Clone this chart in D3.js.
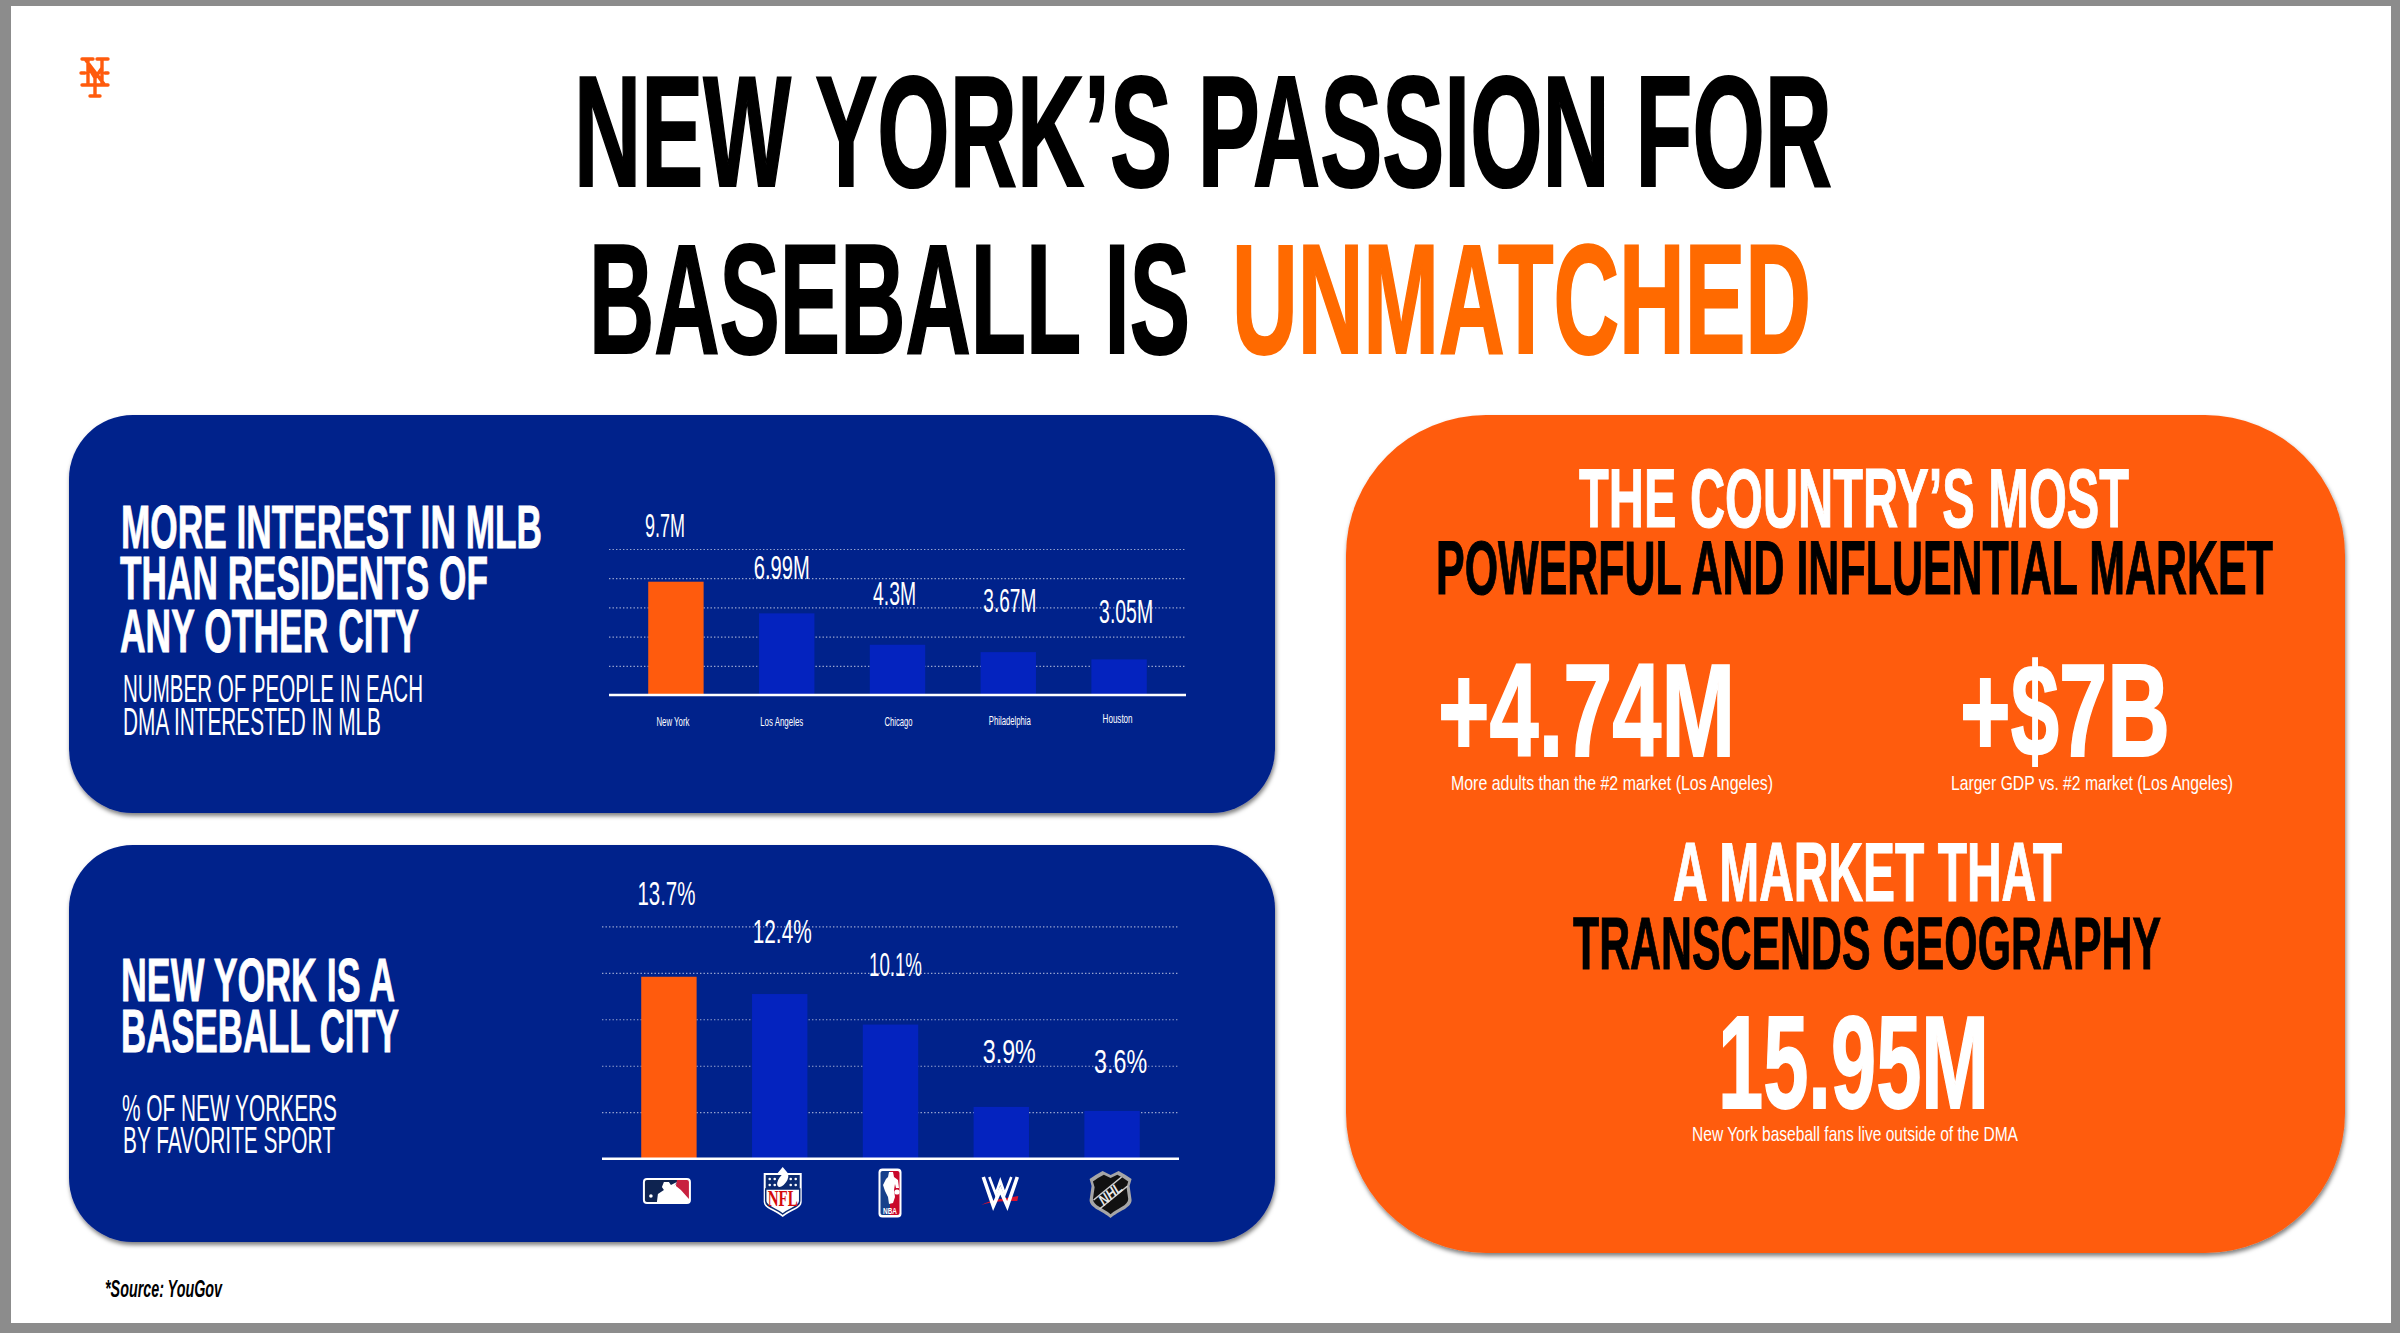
<!DOCTYPE html>
<html>
<head>
<meta charset="utf-8">
<script src="https://cdn.jsdelivr.net/npm/d3@7/dist/d3.min.js"></script>
<style>
  html, body { margin: 0; padding: 0; background: #8c8c8c; }
  svg { display: block; }
  text { font-family: 'Liberation Sans Narrow', 'Liberation Sans', sans-serif; }
</style>
</head>
<body>
<div id="chart"></div>
<script>
// chart values
const cities = ['New York', 'Los Angeles', 'Chicago', 'Philadelphia', 'Houston'];
const cityFans = [9.7, 6.99, 4.3, 3.67, 3.05];
const cityValueLabels = ['9.7M', '6.99M', '4.3M', '3.67M', '3.05M'];
const cityTicks = [2.5, 5, 7.5, 10, 12.5];

const sports = ['MLB', 'NFL', 'NBA', 'WWE', 'NHL'];
const sportShare = [13.7, 12.4, 10.1, 3.9, 3.6];
const sportValueLabels = ['13.7%', '12.4%', '10.1%', '3.9%', '3.6%'];
const sportTicks = [3.5, 7, 10.5, 14, 17.5];

const NAVY = '#05208b';
const BAR_BLUE = '#0423bf';
const ORANGE = '#ff5b0d';
const TITLE_ORANGE = '#ff6a00';
const CAP = 0.688; // cap height of the Liberation fonts

const svg = d3.select('#chart').append('svg').attr('width', 2400).attr('height', 1333);

const defs = svg.append('defs');
const shadow = defs.append('filter').attr('id', 'shadow')
  .attr('x', '-5%').attr('y', '-5%').attr('width', '110%').attr('height', '112%');
shadow.append('feDropShadow').attr('dx', 1).attr('dy', 3).attr('stdDeviation', 2)
  .attr('flood-color', '#000').attr('flood-opacity', 0.5);

// slide page
svg.append('rect').attr('x', 11).attr('y', 6).attr('width', 2380).attr('height', 1317).attr('fill', '#fff');

// text stretched to the width it has in the slide
function fit(g, str, x0, x1, base, cap, color, weight) {
  const t = g.append('text')
    .attr('x', x0).attr('y', base)
    .attr('font-size', cap / CAP)
    .attr('font-weight', weight || 'bold')
    .attr('fill', color)
    .attr('textLength', x1 - x0)
    .attr('lengthAdjust', 'spacingAndGlyphs')
    .text(str);
  // the slide's display face is heavier than the bold we have
  if (!weight) t.attr('stroke', color).attr('stroke-width', cap * 0.02);
  return t;
}

function panel(x0, y0, x1, y1, r, color) {
  svg.append('rect')
    .attr('x', x0).attr('y', y0)
    .attr('width', x1 - x0).attr('height', y1 - y0)
    .attr('rx', r).attr('ry', r)
    .attr('fill', color)
    .attr('filter', 'url(#shadow)');
}

panel(69, 415, 1275, 813, 64, NAVY);
panel(69, 845, 1275, 1242, 64, NAVY);
panel(1346, 415, 2345, 1253, 140, ORANGE);

// headline
const page = svg.append('g');
fit(page, 'NEW YORK\u2019S PASSION FOR', 574, 1832, 186, 109, '#000');
fit(page, 'BASEBALL IS', 589, 1190, 353, 107, '#000');
fit(page, 'UNMATCHED', 1232, 1811, 353, 107, TITLE_ORANGE);
fit(page, '*Source: YouGov', 105, 222, 1297, 16, '#000', '600').attr('font-style', 'italic');

// left panel copy
fit(page, 'MORE INTEREST IN MLB', 121, 542, 548, 42, '#fff');
fit(page, 'THAN RESIDENTS OF', 120, 488, 599, 42, '#fff');
fit(page, 'ANY OTHER CITY', 120, 419, 652, 42, '#fff');
fit(page, 'NUMBER OF PEOPLE IN EACH', 123, 423, 702, 27, '#fff', 'normal');
fit(page, 'DMA INTERESTED IN MLB', 123, 381, 735, 27, '#fff', 'normal');

fit(page, 'NEW YORK IS A', 121, 395, 1001, 42, '#fff');
fit(page, 'BASEBALL CITY', 121, 399, 1052, 42, '#fff');
fit(page, '% OF NEW YORKERS', 122, 337, 1121, 26, '#fff', 'normal');
fit(page, 'BY FAVORITE SPORT', 123, 335, 1153, 26, '#fff', 'normal');

// right panel copy
fit(page, 'THE COUNTRY\u2019S MOST', 1579, 2129, 527, 57, '#fff');
fit(page, 'POWERFUL AND INFLUENTIAL MARKET', 1436, 2273, 594, 52, '#000');
fit(page, '+4.74M', 1438, 1735, 756, 91, '#fff');
fit(page, '+$7B', 1960, 2170, 756, 91, '#fff');
fit(page, 'More adults than the #2 market (Los Angeles)', 1451, 1773, 790, 14, '#fff', 'normal');
fit(page, 'Larger GDP vs. #2 market (Los Angeles)', 1951, 2233, 790, 14, '#fff', 'normal');
fit(page, 'A MARKET THAT', 1673, 2062, 901, 57, '#fff');
fit(page, 'TRANSCENDS GEOGRAPHY', 1573, 2161, 969, 51, '#000');
fit(page, '15.95M', 1718, 1989, 1108, 91, '#fff');
fit(page, 'New York baseball fans live outside of the DMA', 1692, 2018, 1141, 14, '#fff', 'normal');

// team mark, interlocked N and Y
svg.append('path')
  .attr('d', 'M82,59H93M97,59H108M88,59V85M102,59V85M82,85H93M97,85H108M85,59 L104,84M81,73H85M105,73H108M95,78V95M90,96H100M95,78 L89,68M95,78 L102,68')
  .attr('fill', 'none')
  .attr('stroke', ORANGE)
  .attr('stroke-width', 3.4)
  .attr('stroke-linecap', 'round');

function barChart(opts) {
  const { names, values, valueLabels, ticks, left, right, base, top, max, labelTweaks } = opts;
  const g = svg.append('g');

  const x = d3.scaleBand()
    .domain(names)
    .range([left, right])
    .paddingInner(0.5)
    .paddingOuter(0.354);

  const y = d3.scaleLinear().domain([0, max]).range([base, top]);

  // dotted grid
  const grid = g.append('g')
    .attr('transform', `translate(${left},0)`)
    .call(d3.axisLeft(y).tickValues(ticks).tickSize(-(right - left)).tickFormat(''));
  grid.select('.domain').remove();
  grid.selectAll('.tick line')
    .attr('stroke', '#fff')
    .attr('stroke-opacity', 0.6)
    .attr('stroke-width', 1.2)
    .attr('stroke-dasharray', '1.4 2.1');

  g.selectAll('.bar')
    .data(names)
    .enter()
    .append('rect')
    .attr('class', 'bar')
    .attr('x', (d) => x(d))
    .attr('width', x.bandwidth())
    .attr('y', (d, i) => y(values[i]))
    .attr('height', (d, i) => base - y(values[i]))
    .attr('fill', (d, i) => (i === 0 ? ORANGE : BAR_BLUE));

  // white baseline
  g.append('line')
    .attr('x1', left).attr('x2', right)
    .attr('y1', base).attr('y2', base)
    .attr('stroke', '#fff').attr('stroke-width', 2.6);

  // value labels sit by hand over the bars in the slide
  g.selectAll('.value')
    .data(names)
    .enter()
    .append('text')
    .attr('class', 'value')
    .attr('x', (d, i) => x(d) + x.bandwidth() / 2 + labelTweaks[i].dx)
    .attr('y', (d, i) => y(values[i]) - labelTweaks[i].lift)
    .attr('text-anchor', 'middle')
    .attr('font-size', 23 / CAP)
    .attr('fill', '#fff')
    .attr('textLength', (d, i) => labelTweaks[i].w)
    .attr('lengthAdjust', 'spacingAndGlyphs')
    .text((d, i) => valueLabels[i]);

  return { g, x, y };
}

const cityChart = barChart({
  names: cities, values: cityFans, valueLabels: cityValueLabels, ticks: cityTicks,
  left: 609, right: 1186, base: 695, top: 549, max: 12.5,
  labelTweaks: [
    { dx: -11, lift: 45, w: 40 },
    { dx: -5, lift: 34, w: 56 },
    { dx: -3, lift: 40, w: 43 },
    { dx: 1.5, lift: 40, w: 53 },
    { dx: 7, lift: 36, w: 54 }
  ]
});

// city names on the x axis
const cityNameBox = [
  { dx: -3, dy: 0, w: 33 },
  { dx: -5, dy: 0, w: 43 },
  { dx: 1, dy: 0, w: 28 },
  { dx: 1.5, dy: -1, w: 42 },
  { dx: -1.5, dy: -3, w: 30 }
];
const cityAxis = cityChart.g.append('g')
  .attr('transform', 'translate(0,695)')
  .call(d3.axisBottom(cityChart.x).tickSize(0));
cityAxis.select('.domain').remove();
cityAxis.selectAll('.tick text')
  .attr('y', 31)
  .attr('fill', '#fff')
  .attr('dy', 0)
  .attr('font-size', 13)
  .attr('font-family', null)
  .attr('textLength', (d, i) => cityNameBox[i].w)
  .attr('lengthAdjust', 'spacingAndGlyphs')
  .attr('transform', (d, i) => `translate(${cityNameBox[i].dx},${cityNameBox[i].dy})`);

const sportChart = barChart({
  names: sports, values: sportShare, valueLabels: sportValueLabels, ticks: sportTicks,
  left: 602, right: 1179, base: 1158.7, top: 926.3, max: 17.5,
  labelTweaks: [
    { dx: -2.5, lift: 72, w: 58 },
    { dx: 2.5, lift: 51, w: 59 },
    { dx: 5, lift: 49, w: 53 },
    { dx: 8, lift: 44, w: 53 },
    { dx: 8.5, lift: 38, w: 53 }
  ]
});

// league logos stand in for the x axis labels
const logoNudge = { MLB: -2, NFL: 3, NBA: -0.5, WWE: -1, NHL: -1.5 };
const logoY = { MLB: 1191, NFL: 1192, NBA: 1193, WWE: 1192, NHL: 1194 };
const logos = sportChart.g.selectAll('.logo')
  .data(sports)
  .enter()
  .append('g')
  .attr('class', 'logo')
  .attr('transform', (d) => `translate(${sportChart.x(d) + sportChart.x.bandwidth() / 2 + logoNudge[d]},${logoY[d]})`);

const drawLogo = {
  MLB(l) {
    l.append('rect').attr('x', -24).attr('y', -13).attr('width', 48).attr('height', 26).attr('rx', 4).attr('fill', '#fff');
    l.append('path').attr('d', 'M-22,-9a2,2 0 0 1 2,-2H14L3,-2 -3,5 -9,11H-20a2,2 0 0 1 -2,-2Z').attr('fill', '#0e2350');
    l.append('path').attr('d', 'M10,-11H20a2,2 0 0 1 2,2V8L14,-1 9,-5Z').attr('fill', '#c8213f');
    l.append('path').attr('d', 'M-10,11 -9,3 -3,-1 -5,-4 -3,-9 2,-9 4,-6 10,-9 6,-3 12,2 18,11Z').attr('fill', '#fff');
    l.append('circle').attr('cx', -16).attr('cy', 5).attr('r', 1.8).attr('fill', '#fff');
  },
  NFL(l) {
    const shield = 'M0,-25 5,-19 19,-19V10C19,17 8,18 0,25 -8,18 -19,17 -19,10V-19H-5Z';
    l.append('path').attr('d', shield).attr('fill', '#fff');
    l.append('path').attr('d', 'M-17,-17H17V-3H-17Z').attr('fill', '#0b2a70');
    l.append('path').attr('d', 'M-17,-3H17V9C17,15 7,16 0,22 -7,16 -17,15 -17,9Z').attr('fill', '#fff').attr('stroke', '#0b2a70').attr('stroke-width', 1.5);
    l.append('ellipse').attr('cx', 0).attr('cy', -12).attr('rx', 4).attr('ry', 8).attr('transform', 'rotate(35 0 -12)').attr('fill', '#fff');
    [-13, -8, 8, 13].forEach((sx) => {
      [-13, -7].forEach((sy) => {
        l.append('circle').attr('cx', sx).attr('cy', sy).attr('r', 1.3).attr('fill', '#fff');
      });
    });
    l.append('text').attr('x', -15).attr('y', 14).attr('font-size', 24).attr('font-weight', 'bold')
      .attr('fill', '#d50a0a').attr('textLength', 30).attr('lengthAdjust', 'spacingAndGlyphs')
      .style('font-family', "'Liberation Serif', serif").text('NFL');
  },
  NBA(l) {
    l.append('rect').attr('x', -11.5).attr('y', -24.5).attr('width', 23).attr('height', 49).attr('rx', 4).attr('fill', '#fff');
    l.append('path').attr('d', 'M-9.5,-20a2,2 0 0 1 2,-2H0V22H-7.5a2,2 0 0 1 -2,-2Z').attr('fill', '#17408b');
    l.append('path').attr('d', 'M0,-22H7.5a2,2 0 0 1 2,2V20a2,2 0 0 1 -2,2H0Z').attr('fill', '#c9082a');
    l.append('path').attr('d', 'M-1,-21 3,-21 4,-16 8,-13 9,-5 6,-5 5,-9 4,-3 5,4 3,10 -1,11 -2,4 -5,-2 -7,-8 -4,-14 -2,-16Z').attr('fill', '#fff');
    l.append('circle').attr('cx', 7).attr('cy', -1).attr('r', 2.6).attr('fill', '#fff');
    l.append('text').attr('x', 0).attr('y', 20.5).attr('text-anchor', 'middle').attr('font-size', 9).attr('font-weight', 'bold')
      .attr('fill', '#fff').attr('textLength', 14).attr('lengthAdjust', 'spacingAndGlyphs').text('NBA');
  },
  WWE(l) {
    l.append('path').attr('d', 'M-19,13 C-8,7 4,7 18,4 L17,9 C5,9 -8,9 -19,13Z').attr('fill', '#d9112f');
    l.append('path')
      .attr('d', 'M-17,-15 -7,14 0,-2 7,14 17,-15')
      .attr('fill', 'none').attr('stroke', '#fff').attr('stroke-width', 3.6);
    l.append('path')
      .attr('d', 'M-11,-15 -4.5,2 0,-11 4.5,2 11,-15')
      .attr('fill', 'none').attr('stroke', '#fff').attr('stroke-width', 2.6);
  },
  NHL(l) {
    const crest = 'M-15,-19 -8,-23 0,-19 8,-23 15,-19 21,-15 19,-8 21,6 C21,14 8,17 0,24 -8,17 -21,14 -21,6 L-19,-8 -21,-15Z';
    l.append('path').attr('d', crest).attr('fill', '#a6a6a6');
    l.append('path').attr('d', crest).attr('transform', 'scale(0.84)').attr('fill', '#111');
    l.append('path').attr('d', 'M-17,6 11,-17 M-11,15 17,-8').attr('stroke', '#ccc').attr('stroke-width', 1.6);
    l.append('text').attr('x', 0).attr('y', 5).attr('text-anchor', 'middle').attr('font-size', 15).attr('font-weight', 'bold')
      .attr('font-style', 'italic').attr('fill', '#e8e8e8').attr('transform', 'rotate(-40)')
      .attr('textLength', 26).attr('lengthAdjust', 'spacingAndGlyphs').text('NHL');
  }
};
logos.each(function (d) { drawLogo[d](d3.select(this)); });
</script>
</body>
</html>
